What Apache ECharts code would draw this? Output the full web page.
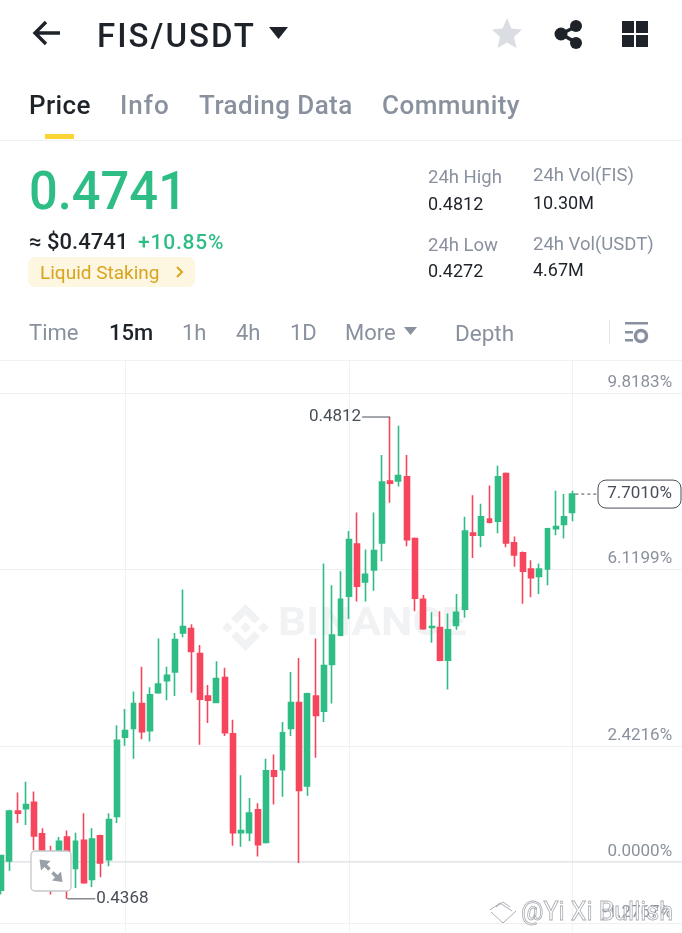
<!DOCTYPE html>
<html>
<head>
<meta charset="utf-8">
<title>FIS/USDT</title>
<script src="https://cdn.jsdelivr.net/npm/echarts@6/dist/echarts.min.js"></script>
<style>
html, body { margin: 0; padding: 0; background: #fff; }
#page { position: relative; width: 682px; height: 933px; overflow: hidden; font-family: Roboto, "Noto Sans", sans-serif; color: #1e2329; }
#chart { position: absolute; left: 0; top: 0; width: 682px; height: 933px; }
.t { position: absolute; white-space: nowrap; transform: translateY(-50%); line-height: 1; }
.g { color: #8a919e; }
.hr { position: absolute; left: 0; width: 682px; height: 1px; background: #f0f1f3; }
svg { position: absolute; overflow: visible; }
</style>
</head>
<body>
<div id="page">
  <div id="chart"></div>

  <svg style="left:0;top:0" width="682" height="150">
    <path d="M60 33H36M46 22L35 33L46 44" fill="none" stroke="#1e2329" stroke-width="3.4"/>
    <path d="M269 27H288L278.500 39Z" fill="#1e2329"/>
    <path d="M507 18L511.500 28.500L522 29.500L514 37L516.500 48L507 42.500L497.500 48L500 37L492 29.500L502.500 28.500Z" fill="#dadde2"/>
    <path d="M577 26L561 34L577 43" fill="none" stroke="#1e2329" stroke-width="3.500"/>
    <circle cx="576" cy="26" r="6" fill="#1e2329"/><circle cx="561" cy="34" r="6.500" fill="#1e2329"/><circle cx="576" cy="43" r="6" fill="#1e2329"/>
    <path d="M622 21h12v12h-12zM636 21h12v12h-12zM622 35h12v12h-12zM636 35h12v12h-12z" fill="#1e2329"/>
    <rect x="45" y="134" width="29" height="5" fill="#fcd535"/>
  </svg>
  <span class="t" style="left:97px;top:35px;font-size:33px;font-weight:500;letter-spacing:2px">FIS/USDT</span>
  <span class="t" style="left:29px;top:105px;font-size:26px;font-weight:500;letter-spacing:.4px">Price</span>
  <span class="t g" style="left:120px;top:105px;font-size:26px;font-weight:500;letter-spacing:1px">Info</span>
  <span class="t g" style="left:199px;top:105px;font-size:26px;font-weight:500;letter-spacing:.45px">Trading Data</span>
  <span class="t g" style="left:382px;top:105px;font-size:26px;font-weight:500;letter-spacing:.45px">Community</span>
  <div class="hr" style="top:140px"></div>

  <span class="t" style="left:29px;top:191px;font-size:53px;font-weight:500;color:#2ebd85;transform:translateY(-50%) scaleX(.955);transform-origin:left center">0.4741</span>
  <span class="t" style="left:29px;top:242px;font-size:22px;font-weight:500">≈ $0.4741</span>
  <span class="t" style="left:138px;top:242px;font-size:21px;font-weight:500;color:#2ebd85;letter-spacing:.8px">+10.85%</span>
  <div style="position:absolute;left:28px;top:257px;width:167px;height:30px;background:#fdf6e0;border-radius:7px"></div>
  <span class="t" style="left:40px;top:272px;font-size:19px;color:#d9a41e">Liquid Staking</span>
  <svg style="left:0;top:0" width="200" height="290"><path d="M177 267L182 272L177 277" fill="none" stroke="#d9a41e" stroke-width="2"/></svg>

  <span class="t g" style="left:428px;top:177px;font-size:18.500px">24h High</span>
  <span class="t" style="left:428px;top:204px;font-size:18px">0.4812</span>
  <span class="t g" style="left:533px;top:175px;font-size:18.500px">24h Vol(FIS)</span>
  <span class="t" style="left:533px;top:203px;font-size:18px">10.30M</span>
  <span class="t g" style="left:428px;top:245px;font-size:18.500px">24h Low</span>
  <span class="t" style="left:428px;top:271px;font-size:18px">0.4272</span>
  <span class="t g" style="left:533px;top:244px;font-size:18.500px">24h Vol(USDT)</span>
  <span class="t" style="left:533px;top:270px;font-size:18px">4.67M</span>

  <span class="t g" style="left:29px;top:333px;font-size:22px">Time</span>
  <span class="t" style="left:109px;top:333px;font-size:22px;font-weight:500">15m</span>
  <span class="t g" style="left:182px;top:333px;font-size:22px">1h</span>
  <span class="t g" style="left:236px;top:333px;font-size:22px">4h</span>
  <span class="t g" style="left:290px;top:333px;font-size:22px">1D</span>
  <span class="t g" style="left:345px;top:333px;font-size:22px">More</span>
  <span class="t g" style="left:455px;top:332.500px;font-size:22.500px">Depth</span>
  <svg style="left:0;top:0" width="682" height="360">
    <path d="M404 327H417L410.500 335Z" fill="#8a919e"/>
    <rect x="609" y="320" width="1" height="24" fill="#e6e8ea"/>
    <path d="M625 322h23v2.500h-23zM625 331h8v2.500h-8zM625 339h8v2.500h-8z" fill="#8a919e"/>
    <circle cx="641" cy="336" r="5.500" fill="none" stroke="#8a919e" stroke-width="3.500"/>
  </svg>
  <div class="hr" style="top:360px"></div>

  <!-- expand button over the chart -->
  <svg style="left:0;top:0" width="100" height="900">
    <rect x="31" y="851" width="40" height="40" rx="4" fill="#fff" stroke="#c3c6cc" stroke-width="1.300"/>
    <path d="M39.500 859.500L50.500 861L41 870.500ZM62.500 882L52 880.500L61 871.500Z" fill="#9aa0a8"/>
    <path d="M44 864L49.500 869.500M52.500 872.500L58 878" stroke="#9aa0a8" stroke-width="3.500" fill="none"/>
  </svg>

  <!-- repost watermark -->
  <svg style="left:0;top:0" width="682" height="933" fill="none" stroke="#a9adb3" stroke-width="1">
    <path d="M490 910L500 903L512 911M496 907L503 902L510 907M491 912L503 923L516 911"/>
  </svg>
  <span class="t" style="left:521px;top:911px;font-size:25px;color:#fff;-webkit-text-stroke:.8px #a9adb3">@Yi Xi Bullish</span>
</div>

<script>
var basePrice = 0.4402;
var tickPercents = [9.8183, 6.1199, 2.4216, 0, -1.2767];
var verticalLines = ['15', '42', '69'];

var openPrices = [
    0.4376, 0.4403, 0.4449, 0.4451, 0.4457, 0.4428, 0.4411, 0.4390, 0.4425, 0.4396,
    0.4422, 0.4386, 0.4426, 0.4404, 0.4444, 0.4517, 0.4525, 0.4548, 0.4523, 0.4558,
    0.4569, 0.4577, 0.4613, 0.4617, 0.4594, 0.4555, 0.4549, 0.4572, 0.4520, 0.4429,
    0.4429, 0.4450, 0.4420, 0.4486, 0.4487, 0.4525, 0.4549, 0.4472, 0.4555, 0.4541,
    0.4584, 0.4611, 0.4647, 0.4695, 0.4660, 0.4671, 0.4696, 0.4753, 0.4753, 0.4757,
    0.4700, 0.4644, 0.4618, 0.4618, 0.4588, 0.4620, 0.4635, 0.4705, 0.4703, 0.4718,
    0.4716, 0.4760, 0.4696, 0.4687, 0.4672, 0.4665, 0.4672, 0.4709, 0.4713, 0.4724
];
var closePrices = [
    0.4408, 0.4449, 0.4447, 0.4455, 0.4426, 0.4411, 0.4381, 0.4421, 0.4385, 0.4421,
    0.4383, 0.4423, 0.4401, 0.4441, 0.4514, 0.4523, 0.4548, 0.4522, 0.4556, 0.4566,
    0.4574, 0.4607, 0.4619, 0.4596, 0.4552, 0.4551, 0.4571, 0.4521, 0.4429, 0.4431,
    0.4447, 0.4418, 0.4486, 0.4481, 0.4521, 0.4549, 0.4468, 0.4557, 0.4537, 0.4583,
    0.4611, 0.4644, 0.4699, 0.4656, 0.4667, 0.4689, 0.4752, 0.4751, 0.4758, 0.4699,
    0.4645, 0.4617, 0.4619, 0.4588, 0.4616, 0.4632, 0.4707, 0.4703, 0.4720, 0.4715,
    0.4757, 0.4696, 0.4685, 0.4670, 0.4664, 0.4672, 0.4709, 0.4711, 0.4720, 0.4741
];
var lowPrices = [
    0.4372, 0.4394, 0.4438, 0.4436, 0.4413, 0.4404, 0.4372, 0.4385, 0.4368, 0.4378,
    0.4382, 0.4379, 0.4388, 0.4398, 0.4438, 0.4509, 0.4497, 0.4515, 0.4513, 0.4557,
    0.4551, 0.4555, 0.4609, 0.4558, 0.4510, 0.4530, 0.4549, 0.4518, 0.4417, 0.4416,
    0.4421, 0.4407, 0.4419, 0.4455, 0.4462, 0.4518, 0.4401, 0.4463, 0.4498, 0.4531,
    0.4548, 0.4610, 0.4626, 0.4642, 0.4642, 0.4652, 0.4679, 0.4733, 0.4748, 0.4693,
    0.4633, 0.4616, 0.4604, 0.4587, 0.4561, 0.4616, 0.4627, 0.4682, 0.4692, 0.4714,
    0.4705, 0.4692, 0.4674, 0.4640, 0.4646, 0.4649, 0.4657, 0.4703, 0.4700, 0.4716
];
var highPrices = [
    0.4408, 0.4450, 0.4466, 0.4476, 0.4467, 0.4433, 0.4417, 0.4425, 0.4431, 0.4429,
    0.4447, 0.4433, 0.4427, 0.4447, 0.4528, 0.4543, 0.4559, 0.4582, 0.4563, 0.4608,
    0.4582, 0.4613, 0.4653, 0.4621, 0.4602, 0.4565, 0.4587, 0.4581, 0.4533, 0.4482,
    0.4461, 0.4456, 0.4497, 0.4501, 0.4531, 0.4577, 0.4590, 0.4558, 0.4608, 0.4677,
    0.4657, 0.4670, 0.4707, 0.4724, 0.4690, 0.4724, 0.4777, 0.4812, 0.4804, 0.4777,
    0.4701, 0.4648, 0.4632, 0.4633, 0.4631, 0.4649, 0.4720, 0.4740, 0.4732, 0.4749,
    0.4767, 0.4761, 0.4702, 0.4688, 0.4680, 0.4677, 0.4710, 0.4744, 0.4741, 0.4744
];

// high/low leaders and the last price tag
var extremes = [[47, 0.4812, '0.4812'], [8, 0.4368, '0.4368']];
var lastPrice = [[69, 0.4741, '7.7010%']];

var categories = [];
for (var n = 0; n < 83; n++) categories.push(String(n));

var candles = openPrices.map(function (o, i) {
    return [o, closePrices[i], lowPrices[i], highPrices[i]];
});
var tickPrices = tickPercents.map(function (p) {
    return basePrice * (1 + p / 100);
});
// the 0% line gets its own darker line below, so no split line there
var gridPrices = tickPrices.filter(function (p) {
    return p !== basePrice;
});

// exchange logo outline, drawn on a 32x32 box
var logoShapes = [
    [[9.79, 13.45], [16, 7.24], [22.21, 13.45], [25.83, 9.83], [16, 0], [6.17, 9.83]],
    [[0, 16], [3.62, 12.38], [7.24, 16], [3.62, 19.62]],
    [[9.79, 18.55], [16, 24.76], [22.21, 18.55], [25.83, 22.17], [16, 32], [6.17, 22.17]],
    [[24.76, 16], [28.38, 12.38], [32, 16], [28.38, 19.62]],
    [[19.67, 16], [16, 12.33], [12.33, 16], [16, 19.67]]
];

var labelFont = 'Roboto, "Noto Sans", sans-serif';
var myChart = echarts.init(document.getElementById('chart'));

var guideLines = verticalLines.map(function (c) {
    return { xAxis: c, lineStyle: { color: '#f0f1f3', width: 1, type: 'solid' } };
});

myChart.setOption({
    animation: false,
    backgroundColor: 'transparent',
    grid: { left: -3.14, width: 687.24, top: 360.6, height: 571.9, outerBoundsMode: 'none' },
    xAxis: {
        type: 'category',
        data: categories,
        axisLine: { show: false },
        axisTick: { show: false },
        axisLabel: { show: false },
        splitLine: { show: false }
    },
    yAxis: {
        type: 'value',
        position: 'right',
        min: 0.4337,
        max: 0.4864,
        axisLine: { show: false },
        axisTick: { show: false, customValues: gridPrices },
        axisLabel: {
            inside: true,
            customValues: tickPrices,
            margin: 12,
            verticalAlign: 'bottom',
            padding: [0, 0, 2, 0],
            color: '#8a919e',
            fontFamily: labelFont,
            fontSize: 17,
            formatter: function (v) {
                return ((v / basePrice - 1) * 100).toFixed(4) + '%';
            }
        },
        splitLine: { show: true, lineStyle: { color: '#eef0f2', width: 1 } }
    },
    graphic: [
        {
            type: 'group', z: 0, silent: true, x: 222, y: 604, scaleX: 47 / 32, scaleY: 47 / 32,
            children: logoShapes.map(function (pts) {
                return { type: 'polygon', z: 0, shape: { points: pts }, style: { fill: '#f1f2f3' } };
            })
        },
        {
            type: 'text', z: 0, silent: true, x: 278, y: 606, scaleX: 1.17,
            style: { text: 'BINANCE', fill: '#f1f2f3', font: 'bold 38px ' + labelFont }
        }
    ],
    series: [
        {
            // 0% base line, behind the candles
            type: 'custom',
            data: [[0, basePrice]],
            clip: false,
            z: 1,
            renderItem: function (params, api) {
                var p = api.coord([api.value(0), api.value(1)]);
                return {
                    type: 'line',
                    shape: { x1: 0, y1: p[1], x2: 682, y2: p[1] },
                    style: { stroke: '#dcdee3', lineWidth: 1.2 }
                };
            }
        },
        {
            type: 'candlestick',
            data: candles,
            barWidth: 5.4,
            z: 3,
            itemStyle: {
                color: '#2ebd85', color0: '#f6465d',
                borderColor: '#2ebd85', borderColor0: '#f6465d',
                borderWidth: 1.6
            },
            markLine: {
                silent: true,
                z: 1,
                symbol: 'none',
                label: { show: false },
                data: guideLines
            }
        },
        {
            type: 'custom',
            data: extremes,
            clip: false,
            z: 5,
            renderItem: function (params, api) {
                var p = api.coord([api.value(0), api.value(1)]);
                var dir = params.dataIndex === 0 ? -1 : 1;
                var end = p[0] + dir * 28;
                return {
                    type: 'group',
                    children: [
                        {
                            type: 'line',
                            shape: { x1: p[0], y1: p[1], x2: end, y2: p[1] },
                            style: { stroke: '#474d57', lineWidth: 1 }
                        },
                        {
                            type: 'text',
                            x: end + dir,
                            y: p[1],
                            style: {
                                text: extremes[params.dataIndex][2],
                                fill: '#474d57',
                                font: '17px ' + labelFont,
                                textAlign: dir < 0 ? 'right' : 'left',
                                textVerticalAlign: 'middle'
                            }
                        }
                    ]
                };
            }
        },
        {
            type: 'custom',
            data: lastPrice,
            clip: false,
            z: 5,
            renderItem: function (params, api) {
                var p = api.coord([api.value(0), api.value(1)]);
                return {
                    type: 'group',
                    children: [
                        {
                            type: 'line',
                            shape: { x1: p[0] + 3, y1: p[1], x2: 597, y2: p[1] },
                            style: { stroke: '#474d57', lineWidth: 1, lineDash: [3, 3] }
                        },
                        {
                            type: 'rect',
                            shape: { x: 598, y: p[1] - 14, width: 83, height: 28, r: 8 },
                            style: { fill: '#fff', stroke: '#474d57', lineWidth: 1 }
                        },
                        {
                            type: 'text',
                            x: 639.5,
                            y: p[1],
                            style: {
                                text: lastPrice[0][2],
                                fill: '#474d57',
                                font: '17px ' + labelFont,
                                textAlign: 'center',
                                textVerticalAlign: 'middle'
                            }
                        }
                    ]
                };
            }
        }
    ]
});
</script>
</body>
</html>
